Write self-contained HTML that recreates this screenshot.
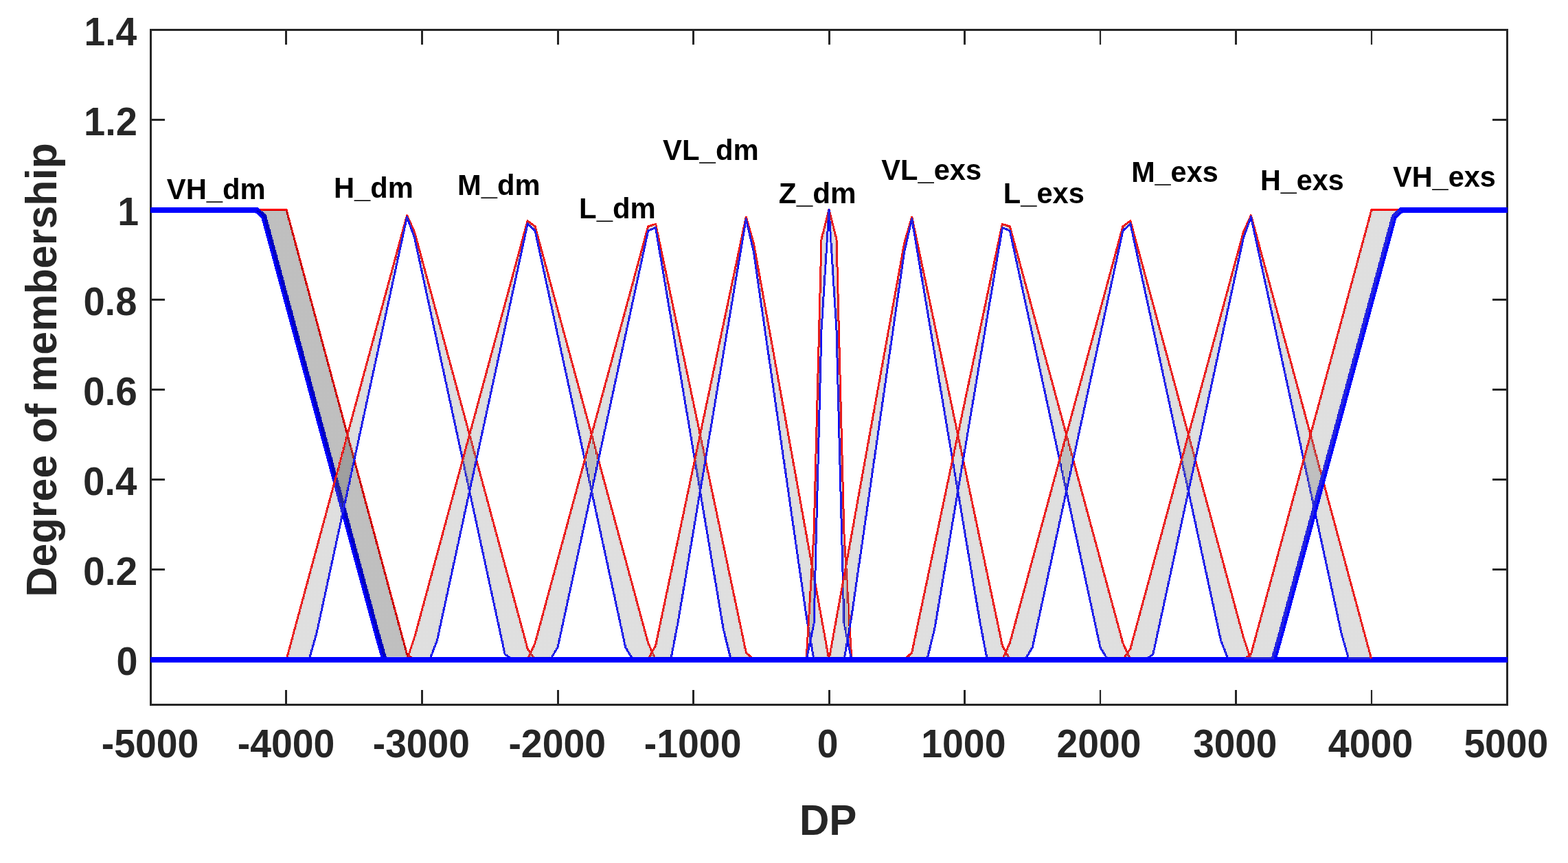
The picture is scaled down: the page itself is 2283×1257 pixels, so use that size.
<!DOCTYPE html>
<html lang="en"><head><meta charset="utf-8"><title>Membership functions of DP</title>
<style>html,body{margin:0;padding:0;background:#fff}body{width:2283px;height:1257px;overflow:hidden}svg{display:block}text{font-family:"Liberation Sans",Arial,Helvetica,sans-serif;font-weight:bold}.t{fill:#262626;font-size:57.3px}.l{fill:#000;font-size:43.3px}</style></head><body>
<svg width="2283" height="1257" viewBox="0 0 2283 1257">
<defs>
<pattern id="pg00" x="0" y="0" width="2" height="2" patternUnits="userSpaceOnUse"><rect x="0" y="0" width="1" height="1" fill="#808080"/></pattern>
<pattern id="pg01" x="0" y="0" width="2" height="2" patternUnits="userSpaceOnUse"><rect x="0" y="1" width="1" height="1" fill="#808080"/></pattern>
<pattern id="pg10" x="0" y="0" width="2" height="2" patternUnits="userSpaceOnUse"><rect x="1" y="0" width="1" height="1" fill="#808080"/></pattern>
<pattern id="pg11" x="0" y="0" width="2" height="2" patternUnits="userSpaceOnUse"><rect x="1" y="1" width="1" height="1" fill="#808080"/></pattern>
<pattern id="pk00" x="0" y="0" width="2" height="2" patternUnits="userSpaceOnUse"><rect x="0" y="0" width="1" height="1" fill="#000"/></pattern>
<pattern id="pk01" x="0" y="0" width="2" height="2" patternUnits="userSpaceOnUse"><rect x="0" y="1" width="1" height="1" fill="#000"/></pattern>
<pattern id="pk10" x="0" y="0" width="2" height="2" patternUnits="userSpaceOnUse"><rect x="1" y="0" width="1" height="1" fill="#000"/></pattern>
<pattern id="pk11" x="0" y="0" width="2" height="2" patternUnits="userSpaceOnUse"><rect x="1" y="1" width="1" height="1" fill="#000"/></pattern>
<clipPath id="ax"><rect x="219" y="42" width="1976" height="986"/></clipPath>
<clipPath id="pc"><rect x="219" y="306" width="1976" height="655"/></clipPath>
</defs>
<rect x="0" y="0" width="2283" height="1257" fill="#fff"/>
<g fill="#262626">
<path fill-rule="evenodd" d="M218 42H2196V1028H218ZM221 45V1025H2193V45Z"/>
<path d="M415 1005H418V1026H415ZM415 44H418V65H415ZM613 1005H616V1026H613ZM613 44H616V65H613ZM811 1005H814V1026H811ZM811 44H814V65H811ZM1008 1005H1011V1026H1008ZM1008 44H1011V65H1008ZM1206 1005H1209V1026H1206ZM1206 44H1209V65H1206ZM1403 1005H1406V1026H1403ZM1403 44H1406V65H1403ZM1600.9 1005H1603.1V1026H1600.9ZM1600.9 44H1603.1V65H1600.9ZM1798 1005H1801V1026H1798ZM1798 44H1801V65H1798ZM1995.9 1005H1998.1V1026H1995.9ZM1995.9 44H1998.1V65H1995.9ZM220 959H240V962H220ZM2173 959H2194V962H2173ZM220 828H240V831H220ZM2173 828H2194V831H2173ZM220 697H240V700H220ZM2173 697H2194V700H2173ZM220 566H240V569H220ZM2173 566H2194V569H2173ZM220 435H240V438H220ZM2173 435H2194V438H2173ZM220 304H240V307H220ZM2173 304H2194V307H2173ZM220 173H240V176H220ZM2173 173H2194V176H2173Z"/>
</g>
<g shape-rendering="crispEdges" clip-path="url(#ax)">
<path fill="none" stroke="#f00" stroke-width="3" stroke-linejoin="round" d="M216.5 305.63L417 305.63L427.97 346.09L438.94 386.54L449.92 426.99L460.89 467.44L471.86 507.9L482.83 548.35L493.81 588.8L504.78 629.25L515.75 669.71L526.72 710.16L537.69 750.61L548.67 791.07L559.64 831.52L570.61 871.97L581.58 912.42L592.56 952.88L603.53 960.97L2197.5 960.97"/>
<path fill="none" stroke="#00f" stroke-width="8.2" stroke-linejoin="round" d="M216.5 305.63L373.11 305.63L384.08 315.34L395.06 355.79L406.03 396.25L417 436.7L427.97 477.15L438.94 517.61L449.92 558.06L460.89 598.51L471.86 638.96L482.83 679.42L493.81 719.87L504.78 760.32L515.75 800.77L526.72 841.23L537.69 881.68L548.67 922.13L559.64 960.97L2197.5 960.97"/>
<polygon fill="url(#pk01)" stroke="url(#pk01)" stroke-width="1" stroke-linejoin="round" clip-path="url(#pc)" points="373.11,305.63 384.08,305.63 395.06,305.63 406.03,305.63 417,305.63 427.97,346.09 438.94,386.54 449.92,426.99 460.89,467.44 471.86,507.9 482.83,548.35 493.81,588.8 504.78,629.25 515.75,669.71 526.72,710.16 537.69,750.61 548.67,791.07 559.64,831.52 570.61,871.97 581.58,912.42 592.56,952.88 603.53,960.97 603.53,960.97 592.56,960.97 581.58,960.97 570.61,960.97 559.64,960.97 548.67,922.13 537.69,881.68 526.72,841.23 515.75,800.77 504.78,760.32 493.81,719.87 482.83,679.42 471.86,638.96 460.89,598.51 449.92,558.06 438.94,517.61 427.97,477.15 417,436.7 406.03,396.25 395.06,355.79 384.08,315.34 373.11,305.63"/>
<path fill="none" stroke="#f00" stroke-width="3" stroke-linejoin="round" d="M216.5 960.97L417 960.97L427.97 920.51L438.94 880.06L449.92 839.61L460.89 799.16L471.86 758.7L482.83 718.25L493.81 677.8L504.78 637.35L515.75 596.89L526.72 556.44L537.69 515.99L548.67 475.53L559.64 435.08L570.61 394.63L581.58 354.18L592.56 313.72L603.53 338L614.5 378.45L625.47 418.9L636.44 459.35L647.42 499.81L658.39 540.26L669.36 580.71L680.33 621.16L691.31 661.62L702.28 702.07L713.25 742.52L724.22 782.97L735.19 823.43L746.17 863.88L757.14 904.33L768.11 944.79L779.08 960.97L2197.5 960.97"/>
<path fill="none" stroke="#00f" stroke-width="3" stroke-linejoin="round" d="M216.5 960.97L449.92 960.97L460.89 922.54L471.86 871.97L482.83 821.4L493.81 770.84L504.78 720.27L515.75 669.71L526.72 619.14L537.69 568.58L548.67 518.01L559.64 467.44L570.61 416.88L581.58 366.31L592.56 315.75L603.53 346.09L614.5 396.65L625.47 447.22L636.44 497.78L647.42 548.35L658.39 598.92L669.36 649.48L680.33 700.05L691.31 750.61L702.28 801.18L713.25 851.74L724.22 902.31L735.19 952.88L746.17 960.97L2197.5 960.97"/>
<polygon fill="url(#pg11)" stroke="url(#pg11)" stroke-width="1" stroke-linejoin="round" clip-path="url(#pc)" points="417,960.97 427.97,920.51 438.94,880.06 449.92,839.61 460.89,799.16 471.86,758.7 482.83,718.25 493.81,677.8 504.78,637.35 515.75,596.89 526.72,556.44 537.69,515.99 548.67,475.53 559.64,435.08 570.61,394.63 581.58,354.18 592.56,313.72 603.53,338 614.5,378.45 625.47,418.9 636.44,459.35 647.42,499.81 658.39,540.26 669.36,580.71 680.33,621.16 691.31,661.62 702.28,702.07 713.25,742.52 724.22,782.97 735.19,823.43 746.17,863.88 757.14,904.33 768.11,944.79 779.08,960.97 779.08,960.97 768.11,960.97 757.14,960.97 746.17,960.97 735.19,952.88 724.22,902.31 713.25,851.74 702.28,801.18 691.31,750.61 680.33,700.05 669.36,649.48 658.39,598.92 647.42,548.35 636.44,497.78 625.47,447.22 614.5,396.65 603.53,346.09 592.56,315.75 581.58,366.31 570.61,416.88 559.64,467.44 548.67,518.01 537.69,568.58 526.72,619.14 515.75,669.71 504.78,720.27 493.81,770.84 482.83,821.4 471.86,871.97 460.89,922.54 449.92,960.97 438.94,960.97 427.97,960.97 417,960.97"/>
<path fill="none" stroke="#f00" stroke-width="3" stroke-linejoin="round" d="M216.5 960.97L592.56 960.97L603.53 928.6L614.5 888.15L625.47 847.7L636.44 807.25L647.42 766.79L658.39 726.34L669.36 685.89L680.33 645.44L691.31 604.98L702.28 564.53L713.25 524.08L724.22 483.63L735.19 443.17L746.17 402.72L757.14 362.27L768.11 321.81L779.08 329.9L790.06 370.36L801.03 410.81L812 451.26L822.97 491.72L833.94 532.17L844.92 572.62L855.89 613.07L866.86 653.53L877.83 693.98L888.81 734.43L899.78 774.88L910.75 815.34L921.72 855.79L932.69 896.24L943.67 936.7L954.64 960.97L2197.5 960.97"/>
<path fill="none" stroke="#00f" stroke-width="3" stroke-linejoin="round" d="M216.5 960.97L625.47 960.97L636.44 932.65L647.42 882.08L658.39 831.52L669.36 780.95L680.33 730.39L691.31 679.82L702.28 629.25L713.25 578.69L724.22 528.12L735.19 477.56L746.17 426.99L757.14 376.43L768.11 325.86L779.08 335.97L790.06 386.54L801.03 437.1L812 487.67L822.97 538.24L833.94 588.8L844.92 639.37L855.89 689.93L866.86 740.5L877.83 791.07L888.81 841.63L899.78 892.2L910.75 942.76L921.72 960.97L2197.5 960.97"/>
<polygon fill="url(#pg01)" stroke="url(#pg01)" stroke-width="1" stroke-linejoin="round" clip-path="url(#pc)" points="592.56,960.97 603.53,928.6 614.5,888.15 625.47,847.7 636.44,807.25 647.42,766.79 658.39,726.34 669.36,685.89 680.33,645.44 691.31,604.98 702.28,564.53 713.25,524.08 724.22,483.63 735.19,443.17 746.17,402.72 757.14,362.27 768.11,321.81 779.08,329.9 790.06,370.36 801.03,410.81 812,451.26 822.97,491.72 833.94,532.17 844.92,572.62 855.89,613.07 866.86,653.53 877.83,693.98 888.81,734.43 899.78,774.88 910.75,815.34 921.72,855.79 932.69,896.24 943.67,936.7 954.64,960.97 954.64,960.97 943.67,960.97 932.69,960.97 921.72,960.97 910.75,942.76 899.78,892.2 888.81,841.63 877.83,791.07 866.86,740.5 855.89,689.93 844.92,639.37 833.94,588.8 822.97,538.24 812,487.67 801.03,437.1 790.06,386.54 779.08,335.97 768.11,325.86 757.14,376.43 746.17,426.99 735.19,477.56 724.22,528.12 713.25,578.69 702.28,629.25 691.31,679.82 680.33,730.39 669.36,780.95 658.39,831.52 647.42,882.08 636.44,932.65 625.47,960.97 614.5,960.97 603.53,960.97 592.56,960.97"/>
<path fill="none" stroke="#f00" stroke-width="3" stroke-linejoin="round" d="M216.5 960.97L768.11 960.97L779.08 936.7L790.06 896.24L801.03 855.79L812 815.34L822.97 774.88L833.94 734.43L844.92 693.98L855.89 653.53L866.86 613.07L877.83 572.62L888.81 532.17L899.78 491.72L910.75 451.26L921.72 410.81L932.69 370.36L943.67 329.9L954.64 326.44L965.61 378.45L976.58 430.46L987.56 482.47L998.53 534.48L1009.5 586.49L1020.47 638.5L1031.44 690.51L1042.42 742.52L1053.39 794.53L1064.36 846.54L1075.33 898.55L1086.31 950.56L1097.28 960.97L2197.5 960.97"/>
<path fill="none" stroke="#00f" stroke-width="3" stroke-linejoin="round" d="M216.5 960.97L801.03 960.97L812 942.76L822.97 892.2L833.94 841.63L844.92 791.07L855.89 740.5L866.86 689.93L877.83 639.37L888.81 588.8L899.78 538.24L910.75 487.67L921.72 437.1L932.69 386.54L943.67 335.97L954.64 331.64L965.61 396.65L976.58 461.67L987.56 526.68L998.53 591.69L1009.5 656.7L1020.47 721.72L1031.44 786.73L1042.42 851.74L1053.39 916.76L1064.36 960.97L2197.5 960.97"/>
<polygon fill="url(#pg00)" stroke="url(#pg00)" stroke-width="1" stroke-linejoin="round" clip-path="url(#pc)" points="768.11,960.97 779.08,936.7 790.06,896.24 801.03,855.79 812,815.34 822.97,774.88 833.94,734.43 844.92,693.98 855.89,653.53 866.86,613.07 877.83,572.62 888.81,532.17 899.78,491.72 910.75,451.26 921.72,410.81 932.69,370.36 943.67,329.9 954.64,326.44 965.61,378.45 976.58,430.46 987.56,482.47 998.53,534.48 1009.5,586.49 1020.47,638.5 1031.44,690.51 1042.42,742.52 1053.39,794.53 1064.36,846.54 1075.33,898.55 1086.31,950.56 1097.28,960.97 1097.28,960.97 1086.31,960.97 1075.33,960.97 1064.36,960.97 1053.39,916.76 1042.42,851.74 1031.44,786.73 1020.47,721.72 1009.5,656.7 998.53,591.69 987.56,526.68 976.58,461.67 965.61,396.65 954.64,331.64 943.67,335.97 932.69,386.54 921.72,437.1 910.75,487.67 899.78,538.24 888.81,588.8 877.83,639.37 866.86,689.93 855.89,740.5 844.92,791.07 833.94,841.63 822.97,892.2 812,942.76 801.03,960.97 790.06,960.97 779.08,960.97 768.11,960.97"/>
<path fill="none" stroke="#f00" stroke-width="3" stroke-linejoin="round" d="M216.5 960.97L943.67 960.97L954.64 940.16L965.61 888.15L976.58 836.14L987.56 784.13L998.53 732.12L1009.5 680.11L1020.47 628.1L1031.44 576.09L1042.42 524.08L1053.39 472.07L1064.36 420.06L1075.33 368.05L1086.31 316.04L1097.28 354.18L1108.25 414.86L1119.22 475.53L1130.19 536.21L1141.17 596.89L1152.14 657.57L1163.11 718.25L1174.08 778.93L1185.06 839.61L1196.03 900.29L1207 960.97L2197.5 960.97"/>
<path fill="none" stroke="#00f" stroke-width="3" stroke-linejoin="round" d="M216.5 960.97L976.58 960.97L987.56 903.76L998.53 838.74L1009.5 773.73L1020.47 708.72L1031.44 643.7L1042.42 578.69L1053.39 513.68L1064.36 448.66L1075.33 383.65L1086.31 318.64L1097.28 366.31L1108.25 442.16L1119.22 518.01L1130.19 593.86L1141.17 669.71L1152.14 745.56L1163.11 821.4L1174.08 897.25L1185.06 960.97L2197.5 960.97"/>
<polygon fill="url(#pg10)" stroke="url(#pg10)" stroke-width="1" stroke-linejoin="round" clip-path="url(#pc)" points="943.67,960.97 954.64,940.16 965.61,888.15 976.58,836.14 987.56,784.13 998.53,732.12 1009.5,680.11 1020.47,628.1 1031.44,576.09 1042.42,524.08 1053.39,472.07 1064.36,420.06 1075.33,368.05 1086.31,316.04 1097.28,354.18 1108.25,414.86 1119.22,475.53 1130.19,536.21 1141.17,596.89 1152.14,657.57 1163.11,718.25 1174.08,778.93 1185.06,839.61 1196.03,900.29 1207,960.97 1207,960.97 1196.03,960.97 1185.06,960.97 1174.08,897.25 1163.11,821.4 1152.14,745.56 1141.17,669.71 1130.19,593.86 1119.22,518.01 1108.25,442.16 1097.28,366.31 1086.31,318.64 1075.33,383.65 1064.36,448.66 1053.39,513.68 1042.42,578.69 1031.44,643.7 1020.47,708.72 1009.5,773.73 998.53,838.74 987.56,903.76 976.58,960.97 965.61,960.97 954.64,960.97 943.67,960.97"/>
<path fill="none" stroke="#f00" stroke-width="3" stroke-linejoin="round" d="M216.5 960.97L1174.08 960.97L1185.06 776.79L1196.03 348.47L1207 305.63L1217.97 348.47L1228.94 776.79L1239.92 960.97L2197.5 960.97"/>
<path fill="none" stroke="#00f" stroke-width="3" stroke-linejoin="round" d="M216.5 960.97L1174.08 960.97L1185.06 907.85L1196.03 479.53L1207 305.63L1217.97 479.53L1228.94 907.85L1239.92 960.97L2197.5 960.97"/>
<polygon fill="url(#pg01)" stroke="url(#pg01)" stroke-width="1" stroke-linejoin="round" clip-path="url(#pc)" points="1174.08,960.97 1185.06,776.79 1196.03,348.47 1207,305.63 1217.97,348.47 1228.94,776.79 1239.92,960.97 1239.92,960.97 1228.94,907.85 1217.97,479.53 1207,305.63 1196.03,479.53 1185.06,907.85 1174.08,960.97"/>
<path fill="none" stroke="#f00" stroke-width="3" stroke-linejoin="round" d="M216.5 960.97L1207 960.97L1217.97 900.29L1228.94 839.61L1239.92 778.93L1250.89 718.25L1261.86 657.57L1272.83 596.89L1283.81 536.21L1294.78 475.53L1305.75 414.86L1316.72 354.18L1327.69 316.04L1338.67 368.05L1349.64 420.06L1360.61 472.07L1371.58 524.08L1382.56 576.09L1393.53 628.1L1404.5 680.11L1415.47 732.12L1426.44 784.13L1437.42 836.14L1448.39 888.15L1459.36 940.16L1470.33 960.97L2197.5 960.97"/>
<path fill="none" stroke="#00f" stroke-width="3" stroke-linejoin="round" d="M216.5 960.97L1228.94 960.97L1239.92 897.25L1250.89 821.4L1261.86 745.56L1272.83 669.71L1283.81 593.86L1294.78 518.01L1305.75 442.16L1316.72 366.31L1327.69 318.64L1338.67 383.65L1349.64 448.66L1360.61 513.68L1371.58 578.69L1382.56 643.7L1393.53 708.72L1404.5 773.73L1415.47 838.74L1426.44 903.76L1437.42 960.97L2197.5 960.97"/>
<polygon fill="url(#pg00)" stroke="url(#pg00)" stroke-width="1" stroke-linejoin="round" clip-path="url(#pc)" points="1207,960.97 1217.97,900.29 1228.94,839.61 1239.92,778.93 1250.89,718.25 1261.86,657.57 1272.83,596.89 1283.81,536.21 1294.78,475.53 1305.75,414.86 1316.72,354.18 1327.69,316.04 1338.67,368.05 1349.64,420.06 1360.61,472.07 1371.58,524.08 1382.56,576.09 1393.53,628.1 1404.5,680.11 1415.47,732.12 1426.44,784.13 1437.42,836.14 1448.39,888.15 1459.36,940.16 1470.33,960.97 1470.33,960.97 1459.36,960.97 1448.39,960.97 1437.42,960.97 1426.44,903.76 1415.47,838.74 1404.5,773.73 1393.53,708.72 1382.56,643.7 1371.58,578.69 1360.61,513.68 1349.64,448.66 1338.67,383.65 1327.69,318.64 1316.72,366.31 1305.75,442.16 1294.78,518.01 1283.81,593.86 1272.83,669.71 1261.86,745.56 1250.89,821.4 1239.92,897.25 1228.94,960.97 1217.97,960.97 1207,960.97"/>
<path fill="none" stroke="#f00" stroke-width="3" stroke-linejoin="round" d="M216.5 960.97L1316.72 960.97L1327.69 950.56L1338.67 898.55L1349.64 846.54L1360.61 794.53L1371.58 742.52L1382.56 690.51L1393.53 638.5L1404.5 586.49L1415.47 534.48L1426.44 482.47L1437.42 430.46L1448.39 378.45L1459.36 326.44L1470.33 329.9L1481.31 370.36L1492.28 410.81L1503.25 451.26L1514.22 491.72L1525.19 532.17L1536.17 572.62L1547.14 613.07L1558.11 653.53L1569.08 693.98L1580.06 734.43L1591.03 774.88L1602 815.34L1612.97 855.79L1623.94 896.24L1634.92 936.7L1645.89 960.97L2197.5 960.97"/>
<path fill="none" stroke="#00f" stroke-width="3" stroke-linejoin="round" d="M216.5 960.97L1349.64 960.97L1360.61 916.76L1371.58 851.74L1382.56 786.73L1393.53 721.72L1404.5 656.7L1415.47 591.69L1426.44 526.68L1437.42 461.67L1448.39 396.65L1459.36 331.64L1470.33 335.97L1481.31 386.54L1492.28 437.1L1503.25 487.67L1514.22 538.24L1525.19 588.8L1536.17 639.37L1547.14 689.93L1558.11 740.5L1569.08 791.07L1580.06 841.63L1591.03 892.2L1602 942.76L1612.97 960.97L2197.5 960.97"/>
<polygon fill="url(#pg00)" stroke="url(#pg00)" stroke-width="1" stroke-linejoin="round" clip-path="url(#pc)" points="1316.72,960.97 1327.69,950.56 1338.67,898.55 1349.64,846.54 1360.61,794.53 1371.58,742.52 1382.56,690.51 1393.53,638.5 1404.5,586.49 1415.47,534.48 1426.44,482.47 1437.42,430.46 1448.39,378.45 1459.36,326.44 1470.33,329.9 1481.31,370.36 1492.28,410.81 1503.25,451.26 1514.22,491.72 1525.19,532.17 1536.17,572.62 1547.14,613.07 1558.11,653.53 1569.08,693.98 1580.06,734.43 1591.03,774.88 1602,815.34 1612.97,855.79 1623.94,896.24 1634.92,936.7 1645.89,960.97 1645.89,960.97 1634.92,960.97 1623.94,960.97 1612.97,960.97 1602,942.76 1591.03,892.2 1580.06,841.63 1569.08,791.07 1558.11,740.5 1547.14,689.93 1536.17,639.37 1525.19,588.8 1514.22,538.24 1503.25,487.67 1492.28,437.1 1481.31,386.54 1470.33,335.97 1459.36,331.64 1448.39,396.65 1437.42,461.67 1426.44,526.68 1415.47,591.69 1404.5,656.7 1393.53,721.72 1382.56,786.73 1371.58,851.74 1360.61,916.76 1349.64,960.97 1338.67,960.97 1327.69,960.97 1316.72,960.97"/>
<path fill="none" stroke="#f00" stroke-width="3" stroke-linejoin="round" d="M216.5 960.97L1459.36 960.97L1470.33 936.7L1481.31 896.24L1492.28 855.79L1503.25 815.34L1514.22 774.88L1525.19 734.43L1536.17 693.98L1547.14 653.53L1558.11 613.07L1569.08 572.62L1580.06 532.17L1591.03 491.72L1602 451.26L1612.97 410.81L1623.94 370.36L1634.92 329.9L1645.89 321.81L1656.86 362.27L1667.83 402.72L1678.81 443.17L1689.78 483.63L1700.75 524.08L1711.72 564.53L1722.69 604.98L1733.67 645.44L1744.64 685.89L1755.61 726.34L1766.58 766.79L1777.56 807.25L1788.53 847.7L1799.5 888.15L1810.47 928.6L1821.44 960.97L2197.5 960.97"/>
<path fill="none" stroke="#00f" stroke-width="3" stroke-linejoin="round" d="M216.5 960.97L1492.28 960.97L1503.25 942.76L1514.22 892.2L1525.19 841.63L1536.17 791.07L1547.14 740.5L1558.11 689.93L1569.08 639.37L1580.06 588.8L1591.03 538.24L1602 487.67L1612.97 437.1L1623.94 386.54L1634.92 335.97L1645.89 325.86L1656.86 376.43L1667.83 426.99L1678.81 477.56L1689.78 528.12L1700.75 578.69L1711.72 629.25L1722.69 679.82L1733.67 730.39L1744.64 780.95L1755.61 831.52L1766.58 882.08L1777.56 932.65L1788.53 960.97L2197.5 960.97"/>
<polygon fill="url(#pg01)" stroke="url(#pg01)" stroke-width="1" stroke-linejoin="round" clip-path="url(#pc)" points="1459.36,960.97 1470.33,936.7 1481.31,896.24 1492.28,855.79 1503.25,815.34 1514.22,774.88 1525.19,734.43 1536.17,693.98 1547.14,653.53 1558.11,613.07 1569.08,572.62 1580.06,532.17 1591.03,491.72 1602,451.26 1612.97,410.81 1623.94,370.36 1634.92,329.9 1645.89,321.81 1656.86,362.27 1667.83,402.72 1678.81,443.17 1689.78,483.63 1700.75,524.08 1711.72,564.53 1722.69,604.98 1733.67,645.44 1744.64,685.89 1755.61,726.34 1766.58,766.79 1777.56,807.25 1788.53,847.7 1799.5,888.15 1810.47,928.6 1821.44,960.97 1821.44,960.97 1810.47,960.97 1799.5,960.97 1788.53,960.97 1777.56,932.65 1766.58,882.08 1755.61,831.52 1744.64,780.95 1733.67,730.39 1722.69,679.82 1711.72,629.25 1700.75,578.69 1689.78,528.12 1678.81,477.56 1667.83,426.99 1656.86,376.43 1645.89,325.86 1634.92,335.97 1623.94,386.54 1612.97,437.1 1602,487.67 1591.03,538.24 1580.06,588.8 1569.08,639.37 1558.11,689.93 1547.14,740.5 1536.17,791.07 1525.19,841.63 1514.22,892.2 1503.25,942.76 1492.28,960.97 1481.31,960.97 1470.33,960.97 1459.36,960.97"/>
<path fill="none" stroke="#f00" stroke-width="3" stroke-linejoin="round" d="M216.5 960.97L1634.92 960.97L1645.89 944.79L1656.86 904.33L1667.83 863.88L1678.81 823.43L1689.78 782.97L1700.75 742.52L1711.72 702.07L1722.69 661.62L1733.67 621.16L1744.64 580.71L1755.61 540.26L1766.58 499.81L1777.56 459.35L1788.53 418.9L1799.5 378.45L1810.47 338L1821.44 313.72L1832.42 354.18L1843.39 394.63L1854.36 435.08L1865.33 475.53L1876.31 515.99L1887.28 556.44L1898.25 596.89L1909.22 637.35L1920.19 677.8L1931.17 718.25L1942.14 758.7L1953.11 799.16L1964.08 839.61L1975.06 880.06L1986.03 920.51L1997 960.97L2197.5 960.97"/>
<path fill="none" stroke="#00f" stroke-width="3" stroke-linejoin="round" d="M216.5 960.97L1667.83 960.97L1678.81 952.88L1689.78 902.31L1700.75 851.74L1711.72 801.18L1722.69 750.61L1733.67 700.05L1744.64 649.48L1755.61 598.92L1766.58 548.35L1777.56 497.78L1788.53 447.22L1799.5 396.65L1810.47 346.09L1821.44 315.75L1832.42 366.31L1843.39 416.88L1854.36 467.44L1865.33 518.01L1876.31 568.58L1887.28 619.14L1898.25 669.71L1909.22 720.27L1920.19 770.84L1931.17 821.4L1942.14 871.97L1953.11 922.54L1964.08 960.97L2197.5 960.97"/>
<polygon fill="url(#pg11)" stroke="url(#pg11)" stroke-width="1" stroke-linejoin="round" clip-path="url(#pc)" points="1634.92,960.97 1645.89,944.79 1656.86,904.33 1667.83,863.88 1678.81,823.43 1689.78,782.97 1700.75,742.52 1711.72,702.07 1722.69,661.62 1733.67,621.16 1744.64,580.71 1755.61,540.26 1766.58,499.81 1777.56,459.35 1788.53,418.9 1799.5,378.45 1810.47,338 1821.44,313.72 1832.42,354.18 1843.39,394.63 1854.36,435.08 1865.33,475.53 1876.31,515.99 1887.28,556.44 1898.25,596.89 1909.22,637.35 1920.19,677.8 1931.17,718.25 1942.14,758.7 1953.11,799.16 1964.08,839.61 1975.06,880.06 1986.03,920.51 1997,960.97 1997,960.97 1986.03,960.97 1975.06,960.97 1964.08,960.97 1953.11,922.54 1942.14,871.97 1931.17,821.4 1920.19,770.84 1909.22,720.27 1898.25,669.71 1887.28,619.14 1876.31,568.58 1865.33,518.01 1854.36,467.44 1843.39,416.88 1832.42,366.31 1821.44,315.75 1810.47,346.09 1799.5,396.65 1788.53,447.22 1777.56,497.78 1766.58,548.35 1755.61,598.92 1744.64,649.48 1733.67,700.05 1722.69,750.61 1711.72,801.18 1700.75,851.74 1689.78,902.31 1678.81,952.88 1667.83,960.97 1656.86,960.97 1645.89,960.97 1634.92,960.97"/>
<path fill="none" stroke="#f00" stroke-width="3" stroke-linejoin="round" d="M216.5 960.97L1810.47 960.97L1821.44 952.88L1832.42 912.42L1843.39 871.97L1854.36 831.52L1865.33 791.07L1876.31 750.61L1887.28 710.16L1898.25 669.71L1909.22 629.25L1920.19 588.8L1931.17 548.35L1942.14 507.9L1953.11 467.44L1964.08 426.99L1975.06 386.54L1986.03 346.09L1997 305.63L2197.5 305.63"/>
<path fill="none" stroke="#00f" stroke-width="8.2" stroke-linejoin="round" d="M216.5 960.97L1854.36 960.97L1865.33 922.13L1876.31 881.68L1887.28 841.23L1898.25 800.77L1909.22 760.32L1920.19 719.87L1931.17 679.42L1942.14 638.96L1953.11 598.51L1964.08 558.06L1975.06 517.61L1986.03 477.15L1997 436.7L2007.97 396.25L2018.94 355.79L2029.92 315.34L2040.89 305.63L2197.5 305.63"/>
<polygon fill="url(#pg01)" stroke="url(#pg01)" stroke-width="1" stroke-linejoin="round" clip-path="url(#pc)" points="1810.47,960.97 1821.44,952.88 1832.42,912.42 1843.39,871.97 1854.36,831.52 1865.33,791.07 1876.31,750.61 1887.28,710.16 1898.25,669.71 1909.22,629.25 1920.19,588.8 1931.17,548.35 1942.14,507.9 1953.11,467.44 1964.08,426.99 1975.06,386.54 1986.03,346.09 1997,305.63 2007.97,305.63 2018.94,305.63 2029.92,305.63 2040.89,305.63 2040.89,305.63 2029.92,315.34 2018.94,355.79 2007.97,396.25 1997,436.7 1986.03,477.15 1975.06,517.61 1964.08,558.06 1953.11,598.51 1942.14,638.96 1931.17,679.42 1920.19,719.87 1909.22,760.32 1898.25,800.77 1887.28,841.23 1876.31,881.68 1865.33,922.13 1854.36,960.97 1843.39,960.97 1832.42,960.97 1821.44,960.97 1810.47,960.97"/>
</g>
<text class="t" transform="translate(147.84 1103.4) scale(0.9650 1)">-5000</text>
<text class="t" transform="translate(345.74 1103.4) scale(0.9664 1)">-4000</text>
<text class="t" transform="translate(542.85 1103.4) scale(0.9622 1)">-3000</text>
<text class="t" transform="translate(740.44 1103.4) scale(0.9664 1)">-2000</text>
<text class="t" transform="translate(937.84 1103.4) scale(0.9664 1)">-1000</text>
<text class="t" transform="translate(1189.81 1103.4) scale(0.9651 1)">0</text>
<text class="t" transform="translate(1341.21 1103.4) scale(0.9670 1)">1000</text>
<text class="t" transform="translate(1538.58 1103.4) scale(0.9648 1)">2000</text>
<text class="t" transform="translate(1737.14 1103.4) scale(0.9596 1)">3000</text>
<text class="t" transform="translate(1933.86 1103.4) scale(0.9690 1)">4000</text>
<text class="t" transform="translate(2131.4 1103.4) scale(0.9639 1)">5000</text>
<text class="t" transform="translate(169.6 983.37) scale(0.9724 1)">0</text>
<text class="t" transform="translate(120.95 852.3) scale(0.9947 1)">0.2</text>
<text class="t" transform="translate(120.97 721.23) scale(0.9847 1)">0.4</text>
<text class="t" transform="translate(120.95 590.17) scale(0.9918 1)">0.6</text>
<text class="t" transform="translate(121.38 459.1) scale(0.9798 1)">0.8</text>
<text class="t" transform="translate(171.31 328.03) scale(0.9670 1)">1</text>
<text class="t" transform="translate(121.97 196.97) scale(0.9790 1)">1.2</text>
<text class="t" transform="translate(122.52 65.9) scale(0.9639 1)">1.4</text>
<text class="l" transform="translate(242.81 290.3) scale(0.9651 1)">VH_dm</text>
<text class="l" transform="translate(486.01 287.7) scale(0.9632 1)">H_dm</text>
<text class="l" transform="translate(666.11 284.3) scale(0.9630 1)">M_dm</text>
<text class="l" transform="translate(843.1 318.3) scale(0.9673 1)">L_dm</text>
<text class="l" transform="translate(965.01 233) scale(0.9683 1)">VL_dm</text>
<text class="l" transform="translate(1133.84 296.2) scale(0.9775 1)">Z_dm</text>
<text class="l" transform="translate(1283.32 261.8) scale(0.9613 1)">VL_exs</text>
<text class="l" transform="translate(1460.81 295.9) scale(0.9619 1)">L_exs</text>
<text class="l" transform="translate(1647.13 264.8) scale(0.9560 1)">M_exs</text>
<text class="l" transform="translate(1834.93 276.9) scale(0.9551 1)">H_exs</text>
<text class="l" transform="translate(2028.02 272.2) scale(0.9579 1)">VH_exs</text>
<text transform="translate(1163.98 1216) scale(0.954 1)" fill="#262626" font-size="63.0px">DP</text>
<text transform="translate(82 869.48) rotate(-90) scale(0.969 1)" fill="#262626" font-size="63.0px">Degree of membership</text>
</svg></body></html>
